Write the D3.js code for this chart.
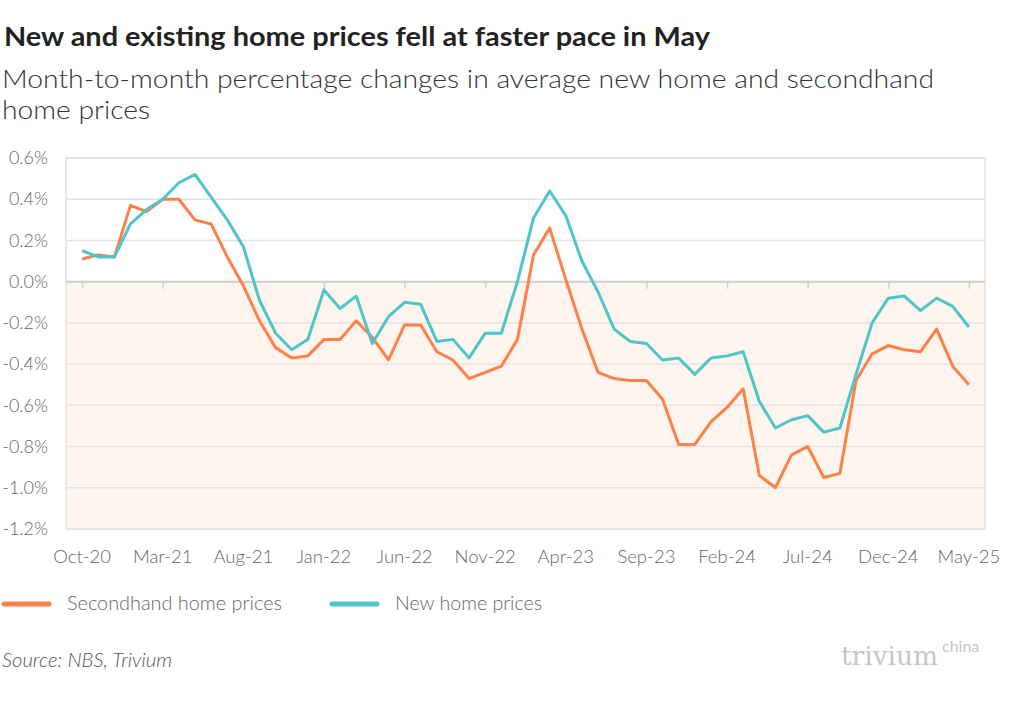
<!DOCTYPE html>
<html>
<head>
<meta charset="utf-8">
<script src="https://cdn.jsdelivr.net/npm/d3@7"></script>
<style>
  body { margin: 0; background: #fff; }
  text { font-family: Lato, "Open Sans", sans-serif; }
</style>
</head>
<body>
<div id="chart-area"></div>
<script>
var months = ['Oct-20', 'Nov-20', 'Dec-20', 'Jan-21', 'Feb-21', 'Mar-21', 'Apr-21', 'May-21', 'Jun-21', 'Jul-21',
  'Aug-21', 'Sep-21', 'Oct-21', 'Nov-21', 'Dec-21', 'Jan-22', 'Feb-22', 'Mar-22', 'Apr-22', 'May-22',
  'Jun-22', 'Jul-22', 'Aug-22', 'Sep-22', 'Oct-22', 'Nov-22', 'Dec-22', 'Jan-23', 'Feb-23', 'Mar-23',
  'Apr-23', 'May-23', 'Jun-23', 'Jul-23', 'Aug-23', 'Sep-23', 'Oct-23', 'Nov-23', 'Dec-23', 'Jan-24',
  'Feb-24', 'Mar-24', 'Apr-24', 'May-24', 'Jun-24', 'Jul-24', 'Aug-24', 'Sep-24', 'Oct-24', 'Nov-24',
  'Dec-24', 'Jan-25', 'Feb-25', 'Mar-25', 'Apr-25', 'May-25'];

var secondhand = [0.11, 0.13, 0.12, 0.37, 0.34, 0.40, 0.40, 0.30, 0.28, 0.12,
  -0.02, -0.19, -0.32, -0.37, -0.36, -0.28, -0.28, -0.19, -0.27, -0.38,
  -0.21, -0.21, -0.34, -0.38, -0.47, -0.44, -0.41, -0.28, 0.13, 0.26,
  0.01, -0.23, -0.44, -0.47, -0.48, -0.48, -0.57, -0.79, -0.79, -0.68,
  -0.61, -0.52, -0.94, -1.00, -0.84, -0.80, -0.95, -0.93, -0.48, -0.35,
  -0.31, -0.33, -0.34, -0.23, -0.41, -0.50];

var newHome = [0.15, 0.12, 0.12, 0.28, 0.35, 0.40, 0.48, 0.52, 0.41, 0.30,
  0.17, -0.09, -0.25, -0.33, -0.28, -0.04, -0.13, -0.07, -0.30, -0.17,
  -0.10, -0.11, -0.29, -0.28, -0.37, -0.25, -0.25, 0.00, 0.31, 0.44,
  0.32, 0.10, -0.05, -0.23, -0.29, -0.30, -0.38, -0.37, -0.45, -0.37,
  -0.36, -0.34, -0.58, -0.71, -0.67, -0.65, -0.73, -0.71, -0.45, -0.20,
  -0.08, -0.07, -0.14, -0.08, -0.12, -0.22];

var yTicks = [0.6, 0.4, 0.2, 0, -0.2, -0.4, -0.6, -0.8, -1.0, -1.2];
var xTickLabels = ['Oct-20', 'Mar-21', 'Aug-21', 'Jan-22', 'Jun-22', 'Nov-22',
  'Apr-23', 'Sep-23', 'Feb-24', 'Jul-24', 'Dec-24', 'May-25'];

var series = [
  { name: 'Secondhand home prices', values: secondhand, color: '#ff8148' },
  { name: 'New home prices', values: newHome, color: '#4fc4c9' }
];

var W = 1024, H = 701;
var plot = { left: 66, right: 985, top: 158, bottom: 529 };

var svg = d3.select('#chart-area')
  .append('svg')
  .attr('width', W)
  .attr('height', H);

// Title + subtitle (widths stretched a bit to match the original wider face)
svg.append('text')
  .attr('x', 4).attr('y', 46)
  .attr('font-size', '26px').attr('font-weight', 700)
  .attr('fill', '#222')
  .attr('textLength', 706)
  .attr('lengthAdjust', 'spacingAndGlyphs')
  .text('New and existing home prices fell at faster pace in May');

svg.append('text')
  .attr('x', 2).attr('y', 88)
  .attr('font-size', '25.5px').attr('font-weight', 300)
  .attr('fill', '#333')
  .attr('textLength', 932)
  .attr('lengthAdjust', 'spacingAndGlyphs')
  .text('Month-to-month percentage changes in average new home and secondhand');

svg.append('text')
  .attr('x', 2).attr('y', 119)
  .attr('font-size', '25.5px').attr('font-weight', 300)
  .attr('fill', '#333')
  .attr('textLength', 148)
  .attr('lengthAdjust', 'spacingAndGlyphs')
  .text('home prices');

// Scales
var x = d3.scalePoint()
  .domain(months)
  .range([plot.left, plot.right])
  .padding(1);

var y = d3.scaleLinear()
  .domain([-1.2, 0.6])
  .range([plot.bottom, plot.top]);

// Negative area shading
svg.append('rect')
  .attr('x', plot.left)
  .attr('y', y(0))
  .attr('width', plot.right - plot.left)
  .attr('height', y(-1.2) - y(0))
  .attr('fill', '#fef5ef');

// Gridlines
svg.append('g')
  .selectAll('line')
  .data(yTicks)
  .enter()
  .append('line')
    .attr('x1', plot.left)
    .attr('x2', plot.right)
    .attr('y1', function(d) { return y(d); })
    .attr('y2', function(d) { return y(d); })
    .attr('stroke', '#e4e4e4')
    .attr('stroke-width', 1.5);

// Plot border
svg.append('rect')
  .attr('x', plot.left)
  .attr('y', plot.top)
  .attr('width', plot.right - plot.left)
  .attr('height', plot.bottom - plot.top)
  .attr('fill', 'none')
  .attr('stroke', '#e2e2e2')
  .attr('stroke-width', 1.5);

// Y axis labels
var yAxis = d3.axisLeft(y)
  .tickValues(yTicks)
  .tickSize(0)
  .tickPadding(0)
  .tickFormat(function(d) { return d.toFixed(1) + '%'; });

var yGroup = svg.append('g')
  .attr('transform', 'translate(48, 0)')
  .call(yAxis);
yGroup.select('.domain').remove();
yGroup.selectAll('text')
  .attr('font-size', '18px')
  .attr('font-weight', 300)
  .attr('fill', '#666');

// Zero line with ticks
var xAxis = d3.axisBottom(x)
  .tickValues(xTickLabels)
  .tickSize(7)
  .tickSizeOuter(0)
  .tickFormat('');

var xGroup = svg.append('g')
  .attr('transform', 'translate(0, ' + y(0) + ')')
  .call(xAxis);
xGroup.select('.domain')
  .attr('stroke', '#cfcfcf')
  .attr('stroke-width', 2)
  .attr('d', 'M' + plot.left + ',0H' + plot.right);
xGroup.selectAll('.tick line')
  .attr('stroke', '#cfcfcf')
  .attr('stroke-width', 1.5);

// X labels under the plot
svg.append('g')
  .selectAll('text')
  .data(xTickLabels)
  .enter()
  .append('text')
    .attr('x', function(d) { return x(d); })
    .attr('y', 563)
    .attr('text-anchor', 'middle')
    .attr('font-size', '18.5px')
    .attr('font-weight', 300)
    .attr('fill', '#666')
    .text(function(d) { return d; });

// Lines
var line = d3.line()
  .x(function(d, i) { return x(months[i]); })
  .y(function(d) { return y(d); });

svg.append('g')
  .selectAll('path')
  .data(series)
  .enter()
  .append('path')
    .attr('d', function(d) { return line(d.values); })
    .attr('fill', 'none')
    .attr('stroke', function(d) { return d.color; })
    .attr('stroke-width', 3)
    .attr('stroke-linejoin', 'round');

// Legend
var legendX = [2, 330];
var legendW = [215, 147];
var legend = svg.append('g')
  .selectAll('g')
  .data(series)
  .enter()
  .append('g')
    .attr('transform', function(d, i) { return 'translate(' + legendX[i] + ', 604)'; });

legend.append('line')
  .attr('x1', 2).attr('x2', 47)
  .attr('y1', 0).attr('y2', 0)
  .attr('stroke', function(d) { return d.color; })
  .attr('stroke-width', 5)
  .attr('stroke-linecap', 'round');

legend.append('text')
  .attr('x', 65)
  .attr('y', 6)
  .attr('font-size', '19px')
  .attr('font-weight', 300)
  .attr('fill', '#666')
  .attr('textLength', function(d, i) { return legendW[i]; })
  .attr('lengthAdjust', 'spacingAndGlyphs')
  .text(function(d) { return d.name; });

// Source
svg.append('text')
  .attr('x', 2).attr('y', 667)
  .attr('font-size', '19px')
  .attr('font-weight', 300)
  .attr('font-style', 'italic')
  .attr('fill', '#555')
  .attr('textLength', 170)
  .attr('lengthAdjust', 'spacingAndGlyphs')
  .text('Source: NBS, Trivium');

// Logo
svg.append('text')
  .attr('x', 841).attr('y', 665)
  .style('font-family', '"DejaVu Serif", serif')
  .attr('font-size', '26px')
  .attr('fill', '#c6c6c6')
  .attr('textLength', 97)
  .attr('lengthAdjust', 'spacingAndGlyphs')
  .text('trivium');

svg.append('text')
  .attr('x', 942).attr('y', 652)
  .attr('font-size', '16px')
  .attr('fill', '#c6c6c6')
  .text('china');
</script>
</body>
</html>
